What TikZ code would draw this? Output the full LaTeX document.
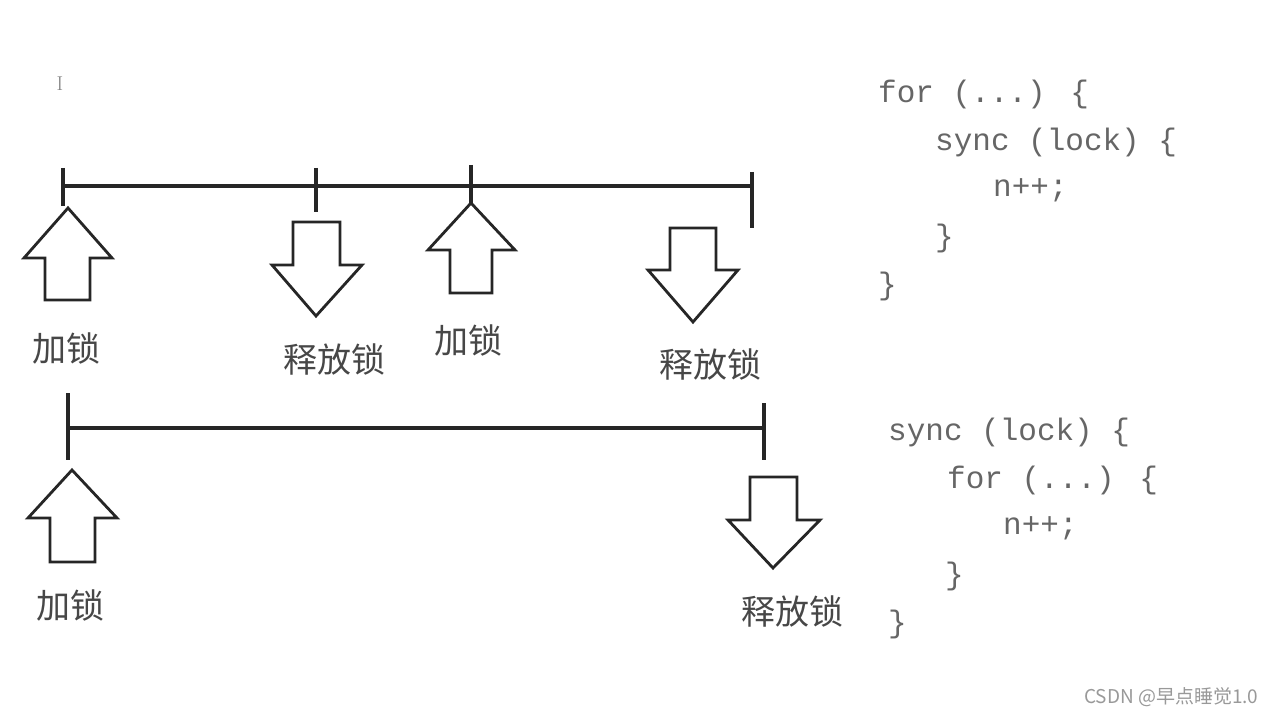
\documentclass[tikz,border=0pt]{standalone}
\usepackage{fontspec}
\newfontfamily\cjk{Noto Sans CJK SC}
\newfontfamily\code{Liberation Mono}
\begin{document}
\begin{tikzpicture}[x=1pt,y=-1pt,
  tl/.style={line width=3.2pt,black!85},
  arr/.style={line width=2.8pt,black!85,line join=miter},
  lab/.style={font=\cjk\fontsize{34}{36}\selectfont,text=black!72,inner sep=0pt},
  cd/.style={font=\code\fontsize{31}{32}\selectfont,text=black!60,anchor=west,inner sep=0pt}]
\useasboundingbox (0,0) rectangle (1265,719);
\fill[white] (0,0) rectangle (1265,719);
% timeline 1
\coordinate (a1) at (63,186); \coordinate (b1) at (752,186);
\draw[tl] (a1) -- (b1);
\draw[tl] (63,168) -- (63,206);
\draw[tl] (316,168) -- (316,212);
\draw[tl] (471,165) -- (471,205);
\draw[tl] (752,172) -- (752,228);
% up arrows
\draw[arr] (68,208) -- (112,258) -- (90,258) -- (90,300) -- (45,300) -- (45,258) -- (24,258) -- cycle;
\draw[arr] (471,203) -- (515,250) -- (492,250) -- (492,293) -- (450,293) -- (450,250) -- (428,250) -- cycle;
\draw[arr] (72,470) -- (117,518) -- (95,518) -- (95,562) -- (50,562) -- (50,518) -- (28,518) -- cycle;
% down arrows
\draw[arr] (316,316) -- (362,265) -- (340,265) -- (340,222) -- (293,222) -- (293,265) -- (272,265) -- cycle;
\draw[arr] (693,322) -- (738,270) -- (716,270) -- (716,228) -- (670,228) -- (670,270) -- (648,270) -- cycle;
\draw[arr] (773,568) -- (820,520) -- (797,520) -- (797,477) -- (750,477) -- (750,520) -- (728,520) -- cycle;
% timeline 2
\draw[tl] (68,428) -- (764,428);
\draw[tl] (68,393) -- (68,460);
\draw[tl] (764,403) -- (764,460);
% labels
\node[lab] (l1) at (66,348) {加锁};
\node[lab] (l2) at (334,360) {释放锁};
\node[lab] (l3) at (468,340) {加锁};
\node[lab] (l4) at (710,365) {释放锁};
\node[lab] (l5) at (70,605) {加锁};
\node[lab] (l6) at (792,612) {释放锁};
\node[font=\fontsize{20}{20}\selectfont,text=black!50] (i) at (60,84) {I};
% code
\node[cd] (c1) at (878,94) {for (...) \{};
\node[cd] (c2) at (935,142) {sync (lock) \{};
\node[cd] (c3) at (993,190) {n++;};
\node[cd] (c4) at (935,238) {\}};
\node[cd] (c5) at (878,286) {\}};
\node[cd] (d1) at (888,432) {sync (lock) \{};
\node[cd] (d2) at (947,480) {for (...) \{};
\node[cd] (d3) at (1003,528) {n++;};
\node[cd] (d4) at (945,576) {\}};
\node[cd] (d5) at (888,624) {\}};
\node[font=\cjk\fontsize{19}{20}\selectfont,text=black!40,anchor=east] (w) at (1262,697) {CSDN @早点睡觉1.0};
\end{tikzpicture}
\end{document}
